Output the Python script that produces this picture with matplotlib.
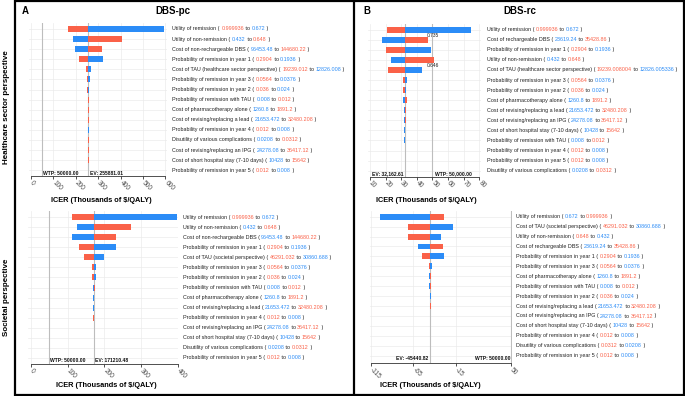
import matplotlib
matplotlib.use("Agg")
import matplotlib.pyplot as plt
from matplotlib.transforms import blended_transform_factory
from matplotlib.patches import Rectangle
from matplotlib.lines import Line2D

plt.rcParams['font.family'] = ['Liberation Sans', 'DejaVu Sans']

RED = '#FA6148'
BLUE = '#2B8CF7'
GRID = '#EBEBEB'
VLINE = '#BDBDBD'

W, H = 685, 396

# ---- data: DBS-pc, healthcare sector perspective
pc_hc_ev = 255.88101
pc_hc_params = ["Utility of remission", "Utility of non-remission", "Cost of non-rechargeable DBS",
                "Probability of remission in year 1", "Cost of TAU (healthcare sector perspective)",
                "Probability of remission in year 3", "Probability of remission in year 2",
                "Probability of remission with TAU", "Cost of pharmacotherapy alone",
                "Cost of revising/replacing a lead", "Probability of remission in year 4",
                "Disutility of various complications", "Cost of revising/replacing an IPG",
                "Cost of short hospital stay (7-10 days)", "Probability of remission in year 5"]
pc_hc_low = ["0.999936", "0.432", "96453.48", "0.2904", "19239.012", "0.0564", "0.036", "0.008",
             "1260.8", "21653.472", "0.012", "0.0208", "24278.08", "10428", "0.012"]
pc_hc_high = ["0.672", "0.648", "144680.22", "0.1936", "12826.008", "0.0376", "0.024", "0.012",
              "1891.2", "32480.208", "0.008", "0.0312", "36417.12", "15642", "0.008"]
pc_hc_first = ["r", "b", "b", "r", "r", "r", "r", "b", "b", "b", "r", "b", "b", "b", "r"]
pc_hc_red = [167, 405, 317, 214, 245.5, 251.4, 251.5, 258, 257, 257, 255, 257, 257, 257, 255.9]
pc_hc_blue = [595, 186, 196, 320, 268, 263, 260, 253, 255, 255, 257.5, 255, 255, 255, 255.9]

# ---- data: DBS-rc, healthcare sector perspective
rc_hc_ev = 32.16261
rc_hc_params = ["Utility of remission", "Cost of rechargeable DBS", "Probability of remission in year 1",
                "Utility of non-remission", "Cost of TAU (healthcare sector perspective)",
                "Probability of remission in year 3", "Probability of remission in year 2",
                "Cost of pharmacotherapy alone", "Cost of revising/replacing a lead",
                "Cost of revising/replacing an IPG", "Cost of short hospital stay (7-10 days)",
                "Probability of remission with TAU", "Probability of remission in year 4",
                "Probability of remission in year 5", "Disutility of various complications"]
rc_hc_low = ["0.999936", "23619.24", "0.2904", "0.432", "19239.008004", "0.0564", "0.036", "1260.8",
             "21653.472", "24278.08", "10428", "0.008", "0.012", "0.012", "0.0208"]
rc_hc_high = ["0.672", "35428.86", "0.1936", "0.648", "12826.005336", "0.0376", "0.024", "1891.2",
              "32480.208", "36417.12", "15642", "0.012", "0.008", "0.008", "0.0312"]
rc_hc_first = ["r", "b", "r", "b", "r", "r", "r", "b", "b", "b", "b", "b", "r", "r", "b"]
rc_hc_red = [20.8, 47.2, 20.3, 51.1, 21.6, 31.1, 31.1, 33.7, 33.0, 33.0, 32.5, 32.4, 32.16, 32.16, 32.16]
rc_hc_blue = [74.9, 17.5, 48.9, 23.6, 43.3, 33.7, 33.2, 31.1, 31.5, 31.5, 31.9, 31.5, 32.16, 32.16, 32.16]

# ---- data: DBS-pc, societal perspective
pc_so_ev = 171.21048
pc_so_params = ["Utility of remission", "Utility of non-remission", "Cost of non-rechargeable DBS",
                "Probability of remission in year 1", "Cost of TAU (societal perspective)",
                "Probability of remission in year 3", "Probability of remission in year 2",
                "Probability of remission with TAU", "Cost of pharmacotherapy alone",
                "Cost of revising/replacing a lead", "Probability of remission in year 4",
                "Cost of revising/replacing an IPG", "Cost of short hospital stay (7-10 days)",
                "Disutility of various complications", "Probability of remission in year 5"]
pc_so_low = ["0.999936", "0.432", "96453.48", "0.2904", "46291.032", "0.0564", "0.036", "0.008",
             "1260.8", "21653.472", "0.012", "24278.08", "10428", "0.0208", "0.012"]
pc_so_high = ["0.672", "0.648", "144680.22", "0.1936", "30860.688", "0.0376", "0.024", "0.012",
              "1891.2", "32480.208", "0.008", "36417.12", "15642", "0.0312", "0.008"]
pc_so_first = ["r", "b", "b", "r", "r", "r", "r", "b", "b", "b", "r", "b", "b", "b", "r"]
pc_so_red = [111, 272.1, 230.5, 130.5, 144.3, 166.6, 166.6, 174, 172.5, 172.5, 170.3, 171.2, 171.2, 171.2, 171.2]
pc_so_blue = [399, 124.9, 112.9, 230.5, 198, 176.8, 176.8, 169.3, 170, 170, 171.5, 170.5, 171.2, 171.2, 171.2]

# ---- data: DBS-rc, societal perspective
rc_so_ev = -45.44082
rc_so_params = ["Utility of remission", "Cost of TAU (societal perspective)", "Utility of non-remission",
                "Cost of rechargeable DBS", "Probability of remission in year 1",
                "Probability of remission in year 3", "Cost of pharmacotherapy alone",
                "Probability of remission with TAU", "Probability of remission in year 2",
                "Cost of revising/replacing a lead", "Cost of revising/replacing an IPG",
                "Cost of short hospital stay (7-10 days)", "Probability of remission in year 4",
                "Disutility of various complications", "Probability of remission in year 5"]
rc_so_low = ["0.672", "46291.032", "0.648", "23619.24", "0.2904", "0.0564", "1260.8", "0.008", "0.036",
             "21653.472", "24278.08", "10428", "0.012", "0.0312", "0.012"]
rc_so_high = ["0.999936", "30860.688", "0.432", "35428.86", "0.1936", "0.0376", "1891.2", "0.012", "0.024",
              "32480.208", "36417.12", "15642", "0.008", "0.0208", "0.008"]
rc_so_first = ["b", "r", "r", "b", "r", "r", "b", "b", "r", "b", "b", "b", "r", "r", "r"]
rc_so_red = [-28.9, -71, -71, -30.5, -55.3, -46.6, -43.9, -44.3, -45.8, -44.3, -45.44, -45.44, -45.44, -45.44, -45.44]
rc_so_blue = [-104.5, -18.7, -32.4, -59.2, -28.9, -43.1, -46.6, -46.6, -43.9, -45.8, -45.9, -45.9, -45.44, -45.44, -45.44]

fig = plt.figure(figsize=(W / 100, H / 100), dpi=100)
renderer = fig.canvas.get_renderer()


def make_axes(x0px, v0, scale, xlim, row1, step, ybot):
    left = x0px + (xlim[0] - v0) * scale
    right = x0px + (xlim[1] - v0) * scale
    top = row1 - 0.6 * step
    bottom = row1 + (ybot - 1) * step
    ax = fig.add_axes([left / W, 1 - bottom / H, (right - left) / W, (bottom - top) / H])
    ax.set_xlim(*xlim)
    ax.set_ylim(ybot, 0.4)
    return ax


def draw_panel(ax, ev, red, blue, ticks, wtp):
    rows = list(range(1, len(red) + 1))
    for t in ticks:
        ax.axvline(t, color=GRID, lw=0.5, zorder=0)
    for r in rows:
        ax.axhline(r, color=GRID, lw=0.5, zorder=0)
    ax.axvline(wtp, color=VLINE, lw=0.8, zorder=1)
    ax.axvline(ev, color=VLINE, lw=0.8, zorder=1)
    ax.barh(rows, [v - ev for v in red], left=ev, height=0.6, color=RED, zorder=2)
    ax.barh(rows, [v - ev for v in blue], left=ev, height=0.6, color=BLUE, zorder=2)
    ax.set_xticks(ticks)
    ax.set_xticklabels([str(t) for t in ticks], rotation=-45, ha='left', va='center',
                       rotation_mode='anchor', fontsize=4.8, color='#4D4D4D')
    ax.tick_params(axis='x', length=2, width=0.6, pad=2, color='#333333')
    ax.set_yticks([])
    for s in ['left', 'right', 'top']:
        ax.spines[s].set_visible(False)
    ax.spines['bottom'].set_color('#333333')
    ax.spines['bottom'].set_linewidth(0.6)
    ax.spines['bottom'].set_bounds(ticks[0], ticks[-1])


def draw_labels(ax, xpx, params, low, high, first):
    tr = blended_transform_factory(fig.transFigure, ax.transData)
    for i, name in enumerate(params):
        c1 = RED if first[i] == "r" else BLUE
        c2 = BLUE if first[i] == "r" else RED
        parts = [(name + " ( ", '#222222'), (low[i], c1), (" to ", '#222222'), (high[i], c2), (" )", '#222222')]
        x = xpx / W
        for s, c in parts:
            t = fig.text(x, i + 1, s, color=c, fontsize=3.85, va='center', ha='left', transform=tr)
            x = t.get_window_extent(renderer).x1 / W


def ev_text(ax, x, s, ha):
    ax.text(x, 15.3, s, fontsize=3.6, fontweight='bold', ha=ha, va='center', color='#111111')


# panel A top
axA1 = make_axes(31, 0, 0.224, (-10, 608), 29, 10.09, 15.6)
draw_panel(axA1, pc_hc_ev, pc_hc_red, pc_hc_blue, [0, 100, 200, 300, 400, 500, 600], 50)
draw_labels(axA1, 172.3, pc_hc_params, pc_hc_low, pc_hc_high, pc_hc_first)
ev_text(axA1, 55, "WTP: 50000.00", 'left')
ev_text(axA1, 262, "EV: 255881.01", 'left')

# panel B top
axB1 = make_axes(370, 10, 1.562, (8.9, 81.1), 29.7, 10.07, 15.6)
draw_panel(axB1, rc_hc_ev, rc_hc_red, rc_hc_blue, [10, 20, 30, 40, 50, 60, 70, 80], 50)
draw_labels(axB1, 486.7, rc_hc_params, rc_hc_low, rc_hc_high, rc_hc_first)
ev_text(axB1, 31.2, "EV: 32,162.61", 'right')
ev_text(axB1, 51.5, "WTP: 50,000.00", 'left')
axB1.text(50, 1.55, "0.735", fontsize=3.5, ha='center', va='center', color='#222222')
axB1.text(50, 4.55, "0.646", fontsize=3.5, ha='center', va='center', color='#222222')

# panel A bottom
axA2 = make_axes(31, 0, 0.3667, (-7, 402), 217.3, 10.03, 15.66)
draw_panel(axA2, pc_so_ev, pc_so_red, pc_so_blue, [0, 100, 200, 300, 400], 50)
draw_labels(axA2, 182.7, pc_so_params, pc_so_low, pc_so_high, pc_so_first)
ev_text(axA2, 53, "WTP: 50000.00", 'left')
ev_text(axA2, 175, "EV: 171210.48", 'left')

# panel B bottom
axB2 = make_axes(371, -115, 0.847, (-116.5, 51), 216.7, 9.93, 15.76)
draw_panel(axB2, rc_so_ev, rc_so_red, rc_so_blue, [-115, -65, -15, 50], 50)
draw_labels(axB2, 516, rc_so_params, rc_so_low, rc_so_high, rc_so_first)
ev_text(axB2, -47.5, "EV: -45440.82", 'right')
ev_text(axB2, 49.5, "WTP: 50000.00", 'right')

# titles, axis titles and row labels
def ftext(xpx, ypx, s, **kw):
    fig.text(xpx / W, 1 - ypx / H, s, **kw)

ftext(22, 11, "A", fontsize=7, fontweight='bold', ha='left', va='center')
ftext(363, 11, "B", fontsize=7, fontweight='bold', ha='left', va='center')
ftext(173, 11, "DBS-pc", fontsize=7, fontweight='bold', ha='center', va='center')
ftext(520, 11, "DBS-rc", fontsize=7, fontweight='bold', ha='center', va='center')
for xp, yp in [(101, 200), (426, 200), (106, 385.7), (430, 385.7)]:
    ftext(xp, yp, "ICER (Thousands of $/QALY)", fontsize=5.3, fontweight='bold', ha='center', va='center')
ftext(6.5, 107, "Healthcare sector perspective", fontsize=5.8, fontweight='bold', rotation=90,
      ha='center', va='center')
ftext(6.5, 297.5, "Societal perspective", fontsize=5.8, fontweight='bold', rotation=90,
      ha='center', va='center')

# outer frame and divider
fig.add_artist(Rectangle((15 / W, 1 - 394.5 / H), (683.5 - 15) / W, (394.5 - 1) / H,
                         transform=fig.transFigure, fill=False, lw=1.6, ec='black'))
fig.add_artist(Line2D([354.3 / W, 354.3 / W], [1 - 394.5 / H, 1 - 1 / H], transform=fig.transFigure,
                      lw=1.6, color='black'))

fig.savefig("out.png", dpi=100)
